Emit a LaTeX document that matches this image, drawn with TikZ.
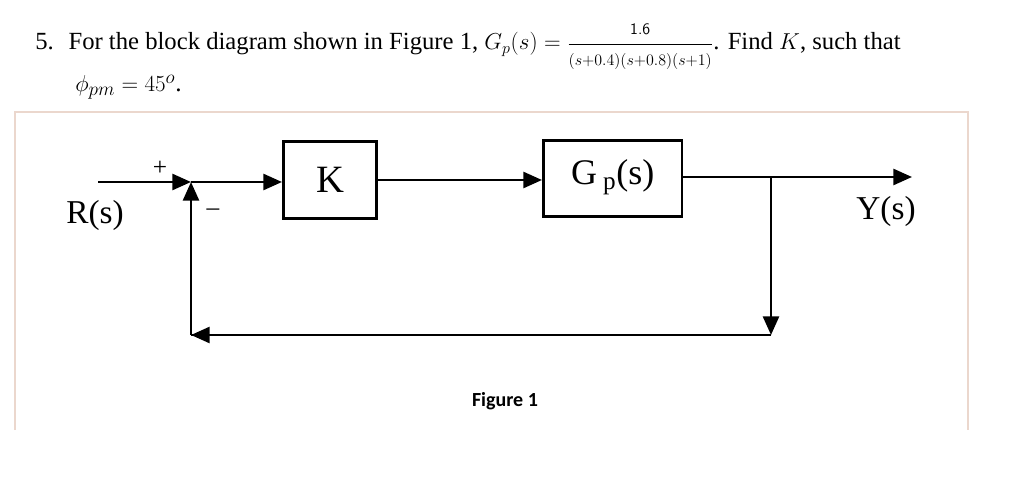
\documentclass[tikz,border=0pt]{standalone}
\usepackage{amsmath}
\usepackage{fontspec}
\setmainfont{Liberation Serif}
\newfontfamily\carl{Carlito}
\usetikzlibrary{arrows.meta}
\begin{document}
\begin{tikzpicture}[x=0.75pt,y=-0.75pt,
  blk/.style={draw,line width=2pt,inner sep=0pt},
  sig/.style={line width=2pt},
  arr/.style={sig,-{Triangle[length=14pt,width=12pt]}},
  lbl/.style={font=\fontsize{25}{28}\selectfont}]
\useasboundingbox (0,0) rectangle (1024,491);
\draw[color={rgb,255:red,235;green,215;blue,205},line width=0.8pt] (15,430) -- (15,112) -- (968,112) -- (968,430);
\node[anchor=base west,font=\fontsize{18.5}{22}\selectfont,inner sep=0pt] (t1) at (35,50)
 {5.\hspace{0.6em}For the block diagram shown in Figure 1, $G_p(s)=\genfrac{}{}{}{0}{\text{\fontsize{12}{14}\sffamily 1.6}}{\text{\fontsize{13}{15}\selectfont$(s{+}0.4)(s{+}0.8)(s{+}1)$}}$. Find $K$, such that};
\node[anchor=base west,font=\fontsize{19}{22}\selectfont,inner sep=0pt] (t2) at (75,92) {$\phi_{pm}=45^o$.};
\node[blk,minimum width=70pt,minimum height=58pt,anchor=north west] (K) at (282,140) {};
\node[font=\fontsize{29}{32}\selectfont] at (K.center) {K};
\node[blk,minimum width=104pt,minimum height=57pt,anchor=north west] (G) at (542,139) {};
\node[font=\fontsize{27}{30}\selectfont] at ([yshift=1pt]G.center) {G\,$_{\mathrm{p}}$(s)};
\coordinate (rin) at (98,182);
\coordinate (j) at (191,182);
\coordinate (br) at (771,177);
\coordinate (yout) at (912,177);
\coordinate (bl) at (191,335);
\coordinate (brb) at (771,335);
\draw[arr] (rin) -- (j);
\draw[arr] (j) -- (K.west|-j);
\draw[arr] (K.east|-0,180) -- (G.west|-0,180);
\draw[arr] (G.east|-br) -- (yout);
\draw[arr] (br) -- (brb);
\draw[sig] (brb) -- (bl);
\draw[arr] (brb) ++(-10,0) -- (bl);
\draw[arr] (bl) -- (j);
\node[lbl] (R) at (95,215) {R(s)};
\node[lbl] (Y) at (886,211) {Y(s)};
\node[font=\fontsize{19}{20}\selectfont] at (160,168) {+};
\node[font=\fontsize{19}{20}\selectfont] at (213,212) {--};
\node[font=\carl\bfseries\fontsize{15}{18}\selectfont] (fig) at (505,401) {Figure 1};
\end{tikzpicture}
\end{document}
